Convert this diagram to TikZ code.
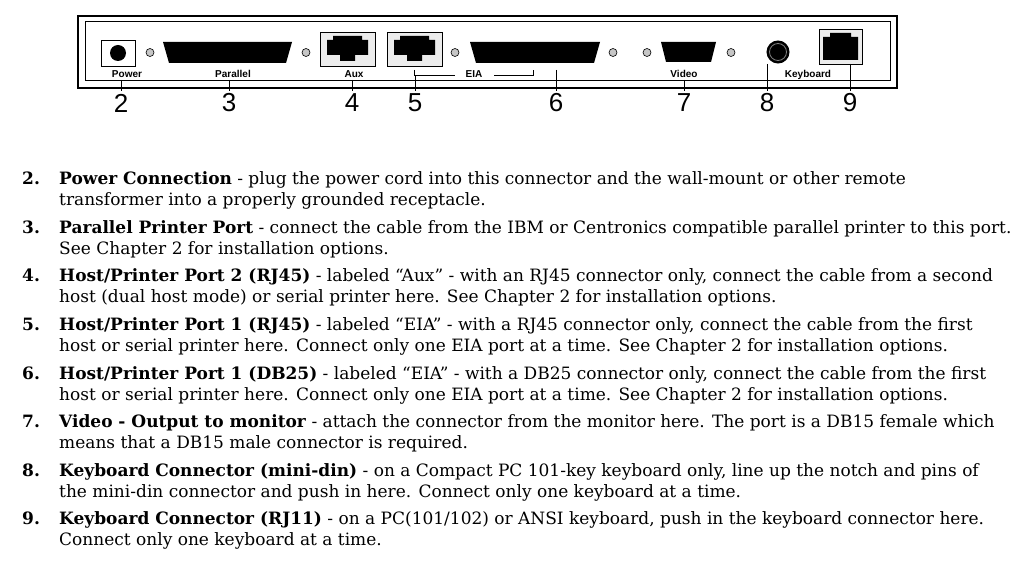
\documentclass[tikz,border=0pt]{standalone}
\usepackage{fontspec}
\setmainfont{DejaVu Serif}
\newfontfamily\sans{Liberation Sans}
\begin{document}
\begin{tikzpicture}[x=1pt,y=-1pt,
  led/.style={draw,fill=gray!45,line width=0.6pt},
  lbl/.style={font=\sans\bfseries\fontsize{10}{10}\selectfont,inner sep=1pt,anchor=base},
  num/.style={font=\sans\fontsize{26}{26}\selectfont,inner sep=0pt},
  item/.style={anchor=north west,inner sep=0pt,align=left,font=\fontsize{17}{21}\selectfont},
  lead/.style={line width=0.7pt}]
\useasboundingbox (0,0) rectangle (1029,580);
% panel
\draw[line width=1.2pt] (78,16) rectangle (897,88);
\draw[line width=1pt] (85,22) rectangle (890,81);
% power
\draw[line width=0.6pt] (101,40) rectangle (135,66);
\fill (118,53) circle (8);
\foreach \x in {150,306,455,613,647,731} \draw[led] (\x,52.5) circle (4);
% DB25s
\foreach \a/\b in {163/292,470/600}
  \fill (\a,42) -- (\b,42) -- (\b-6,63) -- (\a+6,63) -- cycle;
\fill (661,42) -- (716,42) -- (711,62) -- (666,62) -- cycle;
% RJ45s
\foreach \a in {320,387}{
  \draw[fill=gray!15,line width=0.7pt] (\a,32) rectangle (\a+55,66);
  \fill (\a+7,40) rectangle (\a+48,55) (\a+13,36) rectangle (\a+42,40) (\a+20,55) rectangle (\a+35,61);
}
% minidin
\draw[line width=1pt,fill=black] (778,52) circle (11);
\draw[line width=0.8pt,gray] (778,52) circle (8.5);
% RJ11
\draw[fill=gray!15,line width=0.7pt] (819,29) rectangle (862,64);
\fill (823,37) rectangle (858,60) (830,33) rectangle (851,37);
% labels
\node[lbl] (lp) at (127,78) {Power};
\node[lbl] (lpa) at (233,78) {Parallel};
\node[lbl] (la) at (354,78) {Aux};
\node[lbl] (le) at (474,78) {EIA};
\node[lbl] (lv) at (684,78) {Video};
\node[lbl] (lk) at (808,78) {Keyboard};
\draw[lead] (414,70) -- (414,75.5) -- (455,75.5);
\draw[lead] (494,75.5) -- (533,75.5) -- (533,70);
% numbers
\node[num] (n2) at (121,103) {2};
\node[num] (n3) at (229,103) {3};
\node[num] (n4) at (352,103) {4};
\node[num] (n5) at (415,103) {5};
\node[num] (n6) at (556,103) {6};
\node[num] (n7) at (684,103) {7};
\node[num] (n8) at (767,103) {8};
\node[num] (n9) at (850,103) {9};
\draw[lead] (121,80) -- (121,91);
\draw[lead] (229,80) -- (229,91);
\draw[lead] (352,80) -- (352,91);
\draw[lead] (415,75.5) -- (415,91);
\draw[lead] (556,70) -- (556,91);
\draw[lead] (684,80) -- (684,91);
\draw[lead] (767,64) -- (767,91);
\draw[lead] (850,64) -- (850,91);
% text
\foreach \n/\y/\t in {
 2/170/{\textbf{Power Connection} - plug the power cord into this connector and the wall-mount or other remote\\ transformer into a properly grounded receptacle.},
 3/219/{\textbf{Parallel Printer Port} - connect the cable from the IBM or Centronics compatible parallel printer to this port.\\ See Chapter 2 for installation options.},
 4/267/{\textbf{Host/Printer Port 2 (RJ45)} - labeled “Aux” - with an RJ45 connector only, connect the cable from a second\\ host (dual host mode) or serial printer here. See Chapter 2 for installation options.},
 5/316/{\textbf{Host/Printer Port 1 (RJ45)} - labeled “EIA” - with a RJ45 connector only, connect the cable from the first\\ host or serial printer here. Connect only one EIA port at a time. See Chapter 2 for installation options.},
 6/365/{\textbf{Host/Printer Port 1 (DB25)} - labeled “EIA” - with a DB25 connector only, connect the cable from the first\\ host or serial printer here. Connect only one EIA port at a time. See Chapter 2 for installation options.},
 7/413/{\textbf{Video - Output to monitor} - attach the connector from the monitor here. The port is a DB15 female which\\ means that a DB15 male connector is required.},
 8/462/{\textbf{Keyboard Connector (mini-din)} - on a Compact PC 101-key keyboard only, line up the notch and pins of\\ the mini-din connector and push in here. Connect only one keyboard at a time.},
 9/510/{\textbf{Keyboard Connector (RJ11)} - on a PC(101/102) or ANSI keyboard, push in the keyboard connector here.\\ Connect only one keyboard at a time.}}{
 \node[item] (k\n) at (22,\y) {\strut\textbf{\n.}};
 \node[item] (t\n) at (59,\y) {\strut\t};
}
\end{tikzpicture}
\end{document}
